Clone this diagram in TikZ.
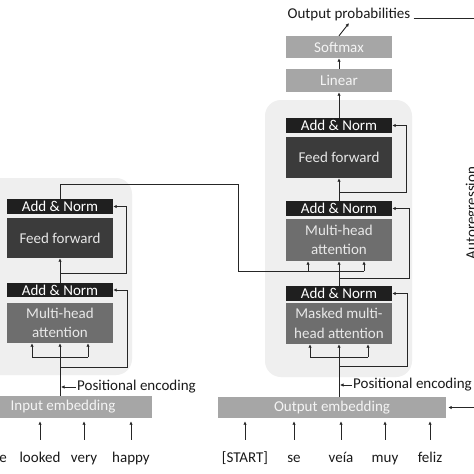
\documentclass[tikz,border=0pt]{standalone}
\usepackage{fontspec}
\setmainfont{Carlito}
\usetikzlibrary{arrows.meta}
\definecolor{bgc}{HTML}{EFEFEF}
\definecolor{anc}{HTML}{1F1F1F}
\definecolor{ffc}{HTML}{3B3B3B}
\definecolor{mhac}{HTML}{6E6E6E}
\definecolor{ltc}{HTML}{A6A6A6}
\definecolor{fftxt}{HTML}{E6E6E6}
\definecolor{mhatxt}{HTML}{E8E8E8}
\definecolor{lttxt}{HTML}{F4F4F4}
\definecolor{linec}{HTML}{262626}
\definecolor{txtc}{HTML}{1A1A1A}
\begin{document}
\begin{tikzpicture}[x=1pt,y=-1pt,
  box/.style={minimum width=106pt, inner sep=0pt, align=center, font=\fontsize{15}{19.5}\selectfont},
  an/.style={box, fill=anc, text=white, minimum height=15pt},
  ff/.style={box, fill=ffc, text=fftxt, minimum height=41pt},
  mha/.style={box, fill=mhac, text=mhatxt, minimum height=41pt},
  lt/.style={box, fill=ltc, text=lttxt, minimum height=22pt},
  conn/.style={draw=linec, line width=0.9pt},
  arr/.style={conn, -{Latex[length=3.5pt,width=3.5pt]}},
  lbl/.style={font=\fontsize{15}{18}\selectfont, text=txtc, inner sep=0pt},
  word/.style={lbl, anchor=base, text height=11pt, text depth=3pt},
  warr/.style={arr, shorten <=11pt, shorten >=3pt},
  bgbox/.style={fill=bgc, rounded corners=16pt}]
\useasboundingbox (0,0) rectangle (474,474);
\fill[white] (0,0) rectangle (474,474);
% backgrounds
\fill[bgbox] (-20,178) rectangle (132,375);
\fill[bgbox] (265,100) rectangle (412,377);
% encoder
\node[an] (eAN2) at (60,206.5) {Add \& Norm};
\node[ff, minimum height=40pt] (eFF) at (60,238) {Feed forward};
\node[an, minimum height=14pt] (eAN1) at (60,290) {Add \& Norm};
\node[mha, minimum height=40pt] (eMHA) at (60,323) {Multi-head\\attention};
\node[lt, minimum width=178pt] (inEmb) at (63,407) {Input embedding};
% decoder
\node[lt] (softmax) at (339,47) {Softmax};
\node[lt, minimum height=23pt] (linear) at (339,80.5) {Linear};
\node[an] (dAN3) at (339,125.5) {Add \& Norm};
\node[ff] (dFF) at (339,157.5) {Feed forward};
\node[an] (dAN2) at (339,208.5) {Add \& Norm};
\node[mha, minimum height=42pt] (dMHA) at (339,240) {Multi-head\\attention};
\node[an] (dAN1) at (339,293.5) {Add \& Norm};
\node[mha] (dMMHA) at (339,323.5) {Masked multi-\\head attention};
\node[lt, minimum width=228pt, minimum height=21pt] (outEmb) at (332,407.5) {Output embedding};
% labels
\node[lbl] (oprob) at (349,15) {Output probabilities};
\node[lbl, rotate=90, anchor=base] (autoreg) at (476,213) {Autoregression};
\node[lbl, anchor=west] (ePE) at (77,387) {Positional encoding};
\node[lbl, anchor=west] (dPE) at (353,385) {Positional encoding};
% words
\node[word] (w0) at (3,462) {e};
\node[word] (w1) at (40,462) {looked};
\node[word] (w2) at (84,462) {very};
\node[word] (w3) at (131,462) {happy};
\node[word] (v1) at (245,462) {[START]};
\node[word] (v2) at (294,462) {se};
\node[word] (v3) at (341,462) {veía};
\node[word] (v4) at (385,462) {muy};
\node[word] (v5) at (430,462) {feliz};
\foreach \w in {w1,w2,w3} \draw[warr] (\w.north) -- (\w.north |- inEmb.south);
\foreach \w in {v1,v2,v3,v4,v5} \draw[warr] (\w.north) -- (\w.north |- outEmb.south);
% coordinates
\coordinate (eb1) at (32,357);
\coordinate (eb2) at (88,357);
\coordinate (er1) at (60,367);
\coordinate (er2) at (60,273);
\coordinate (ej) at (238,184);
\coordinate (db1) at (308,271);
\coordinate (db2) at (364,271);
\coordinate (mb1) at (310,357);
\coordinate (mb2) at (368,357);
\coordinate (dr1) at (339,366);
\coordinate (dr2) at (339,278);
\coordinate (dr3) at (339,192);
\coordinate (rc) at (490,300);
% encoder connectors
\draw[arr] (inEmb.north -| eMHA.south) -- (eMHA.south);
\draw[arr, shorten >=1pt] ([xshift=-1.5pt]ePE.west) -- (ePE.west -| eMHA.south);
\draw[conn] (eb1) -- (eb2);
\draw[arr] (eb1) -- (eb1 |- eMHA.south);
\draw[arr] (eb2) -- (eb2 |- eMHA.south);
\draw[arr] (er1) -- ++(67,0) |- (eAN1.east);
\draw[arr] (eAN1.north) -- (eFF.south);
\draw[arr] (er2) -- ++(66,0) |- (eAN2.east);
\draw[conn] (eAN2.north) |- (ej) |- (db2);
\draw[arr] (db1) -- (db1 |- dMHA.south);
\draw[arr] (db2) -- (db2 |- dMHA.south);
% decoder connectors
\draw[arr] (outEmb.north -| dMMHA.south) -- (dMMHA.south);
\draw[arr, shorten >=1pt] ([xshift=-1.5pt]dPE.west) -- (dPE.west -| dMMHA.south);
\draw[conn] (mb1) -- (mb2);
\draw[arr] (mb1) -- (mb1 |- dMMHA.south);
\draw[arr] (mb2) -- (mb2 |- dMMHA.south);
\draw[arr] (dr1) -- ++(68,0) |- (dAN1.east);
\draw[arr] (dAN1.north) -- (dMHA.south);
\draw[arr] (dr2) -- ++(70,0) |- (dAN2.east);
\draw[arr] (dAN2.north) -- (dFF.south);
\draw[arr] (dr3) -- ++(67,0) |- (dAN3.east);
\draw[arr] (dAN3.north) -- (linear.south);
\draw[arr] (linear.north) -- (softmax.south);
\draw[arr] (softmax.north) -- ([yshift=-1.5pt]oprob.south);
\draw[arr, shorten >=2pt] ([xshift=3pt,yshift=-3pt]oprob.east) -| (rc) |- (outEmb.east);
\end{tikzpicture}
\end{document}
